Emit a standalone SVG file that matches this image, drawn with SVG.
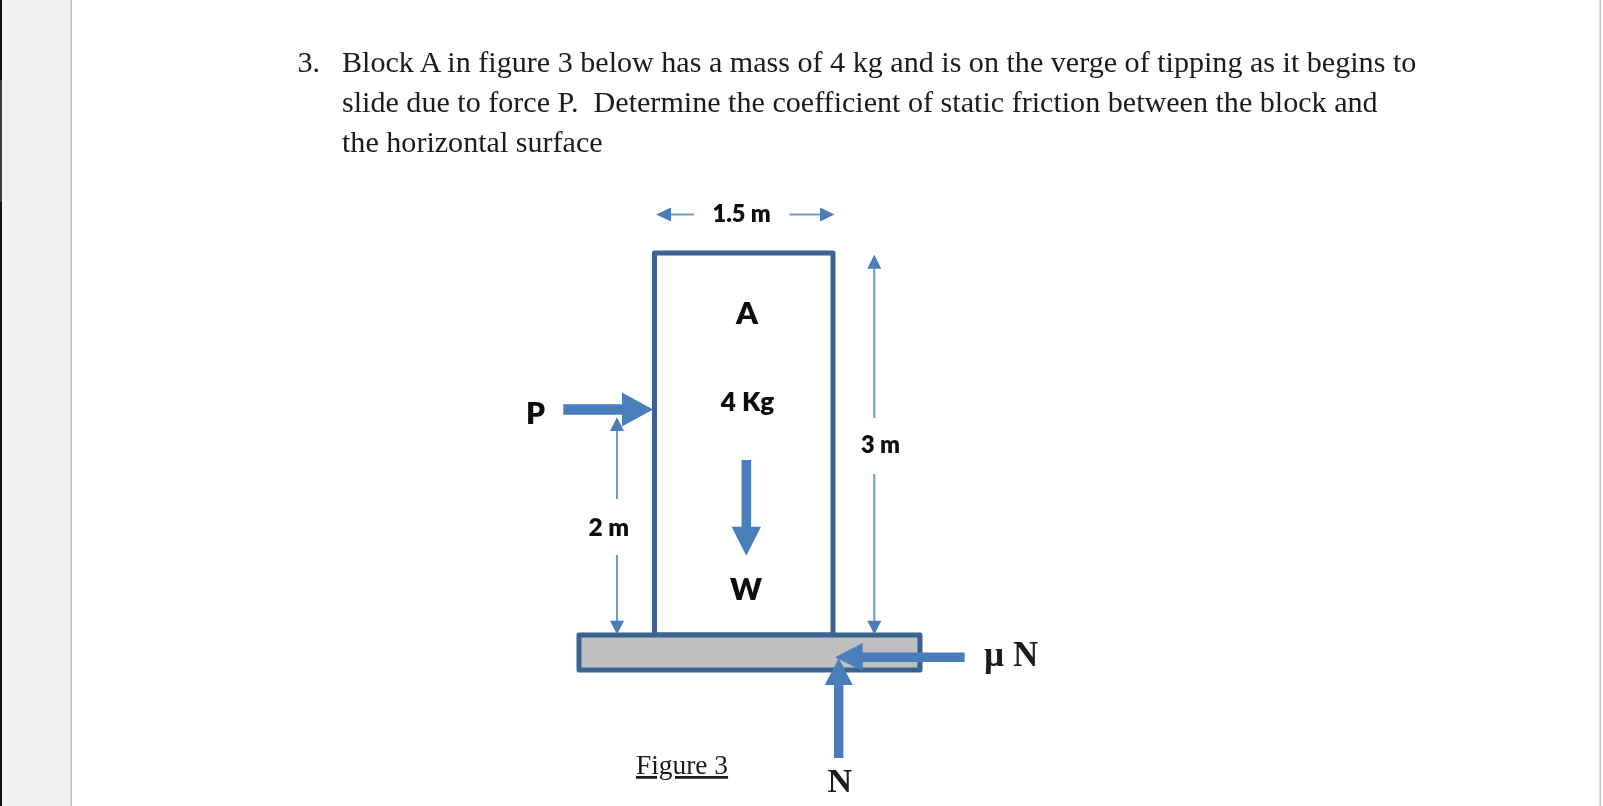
<svg xmlns="http://www.w3.org/2000/svg" width="1603" height="806" viewBox="0 0 1603 806">
<defs><filter id="soft" x="0" y="0" width="1" height="1" filterUnits="objectBoundingBox"><feGaussianBlur stdDeviation="0.55"/></filter></defs>
<style>
.body{font-family:"Liberation Serif","Times New Roman",serif;font-size:30.1px;fill:#1a1a1a}
.lab{font-family:Lato,"Liberation Sans",sans-serif;font-weight:800;fill:#111}
.fill{fill:#4a7ebb}
.thin{stroke:#6a9bd4;stroke-width:2;fill:none}
.block{stroke:#3b6290;stroke-width:5;stroke-linejoin:round}
</style>
<rect width="1603" height="806" fill="#fff"/>
<rect x="0" y="0" width="71" height="806" fill="#f1f1f1"/>
<rect x="70.5" y="0" width="1.500" height="806" fill="#b9bec5"/>
<rect x="1599.5" y="0" width="1.500" height="806" fill="#c4c8cd"/>
<rect x="0" y="0" width="2" height="80" fill="#111"/>
<rect x="0" y="80" width="2" height="122" fill="#3c3c3c"/>
<rect x="0" y="202" width="2" height="604" fill="#111"/>
<g filter="url(#soft)">
<g id="question">
<text class="body" x="297.5" y="72">3.</text>
<text class="body" x="342" y="72">Block A in figure 3 below has a mass of 4 kg and is on the verge of tipping as it begins to</text>
<text class="body" x="342" y="112" xml:space="preserve">slide due to force P.  Determine the coefficient of static friction between the block and</text>
<text class="body" x="342" y="152">the horizontal surface</text>
</g>
<g id="block-a"><rect class="block" x="654.5" y="253" width="178.5" height="382" fill="#fff"/>
<text class="lab" x="747" y="324" text-anchor="middle" font-size="31">A</text>
<text class="lab" x="747.5" y="411" text-anchor="middle" font-size="26">4 Kg</text>
<text class="lab" x="746" y="600" text-anchor="middle" font-size="30">W</text></g>
<g id="surface"><rect class="block" x="579" y="635" width="341" height="35" fill="#bfbfbf"/></g>
<g id="connectors">
<g id="dim-width">
<path class="thin" d="M670 214.5H694M789.5 214.5H821"/>
<path class="fill" d="M656 214.5L671 207.5V221.5ZM834.500 214.500L820 207.500V221.500Z"/>
</g>
<g id="dim-height">
<path class="thin" d="M874.300 268V418M874.300 474V621"/>
<path class="fill" d="M874.300 254.700L867.300 268.700H881.300ZM874.300 634.500L867.300 620.700H881.300Z"/>
</g>
<g id="dim-p">
<path class="thin" d="M617 430V499M617 555V621"/>
<path class="fill" d="M617 417.300L610 431H624ZM617 634.500L610 620.700H624Z"/>
</g>
<path id="force-p" class="fill" d="M563.300 404.300H622V392.500L653 409.500L622 426.500V414.700H563.300Z"/>
<path id="force-w" class="fill" d="M741.500 460H751.100V526.700H761L746.300 555.700L731.600 526.700H741.500Z"/>
<path id="force-n" class="fill" d="M834 758V685H824.700L838.700 658.300L852.700 685H843.400V758Z"/>
<path id="force-friction" class="fill" d="M964.700 652.500V662H862.700V671L835 657.300L862.700 643V652.500Z"/>
</g>
<g id="labels">
<text class="lab" x="712.500" y="222" font-size="23.500">1.5 m</text>
<text class="lab" x="526" y="423.500" font-size="30">P</text>
<text class="lab" x="861" y="452.500" font-size="23.500">3 m</text>
<text class="lab" x="588.500" y="536" font-size="24.500">2 m</text>
<text x="984" y="666" font-family="Liberation Serif,serif" font-weight="700" font-size="35" fill="#1a1a1a">µ N</text>
<text x="827.500" y="792" font-family="Liberation Serif,serif" font-weight="700" font-size="34" fill="#1a1a1a">N</text>
<text x="636" y="774" font-family="Liberation Serif,serif" font-size="27.400" fill="#1a1a1a" style="text-decoration:underline;text-decoration-thickness:1.200px">Figure 3</text>
</g>
</g>
</svg>
